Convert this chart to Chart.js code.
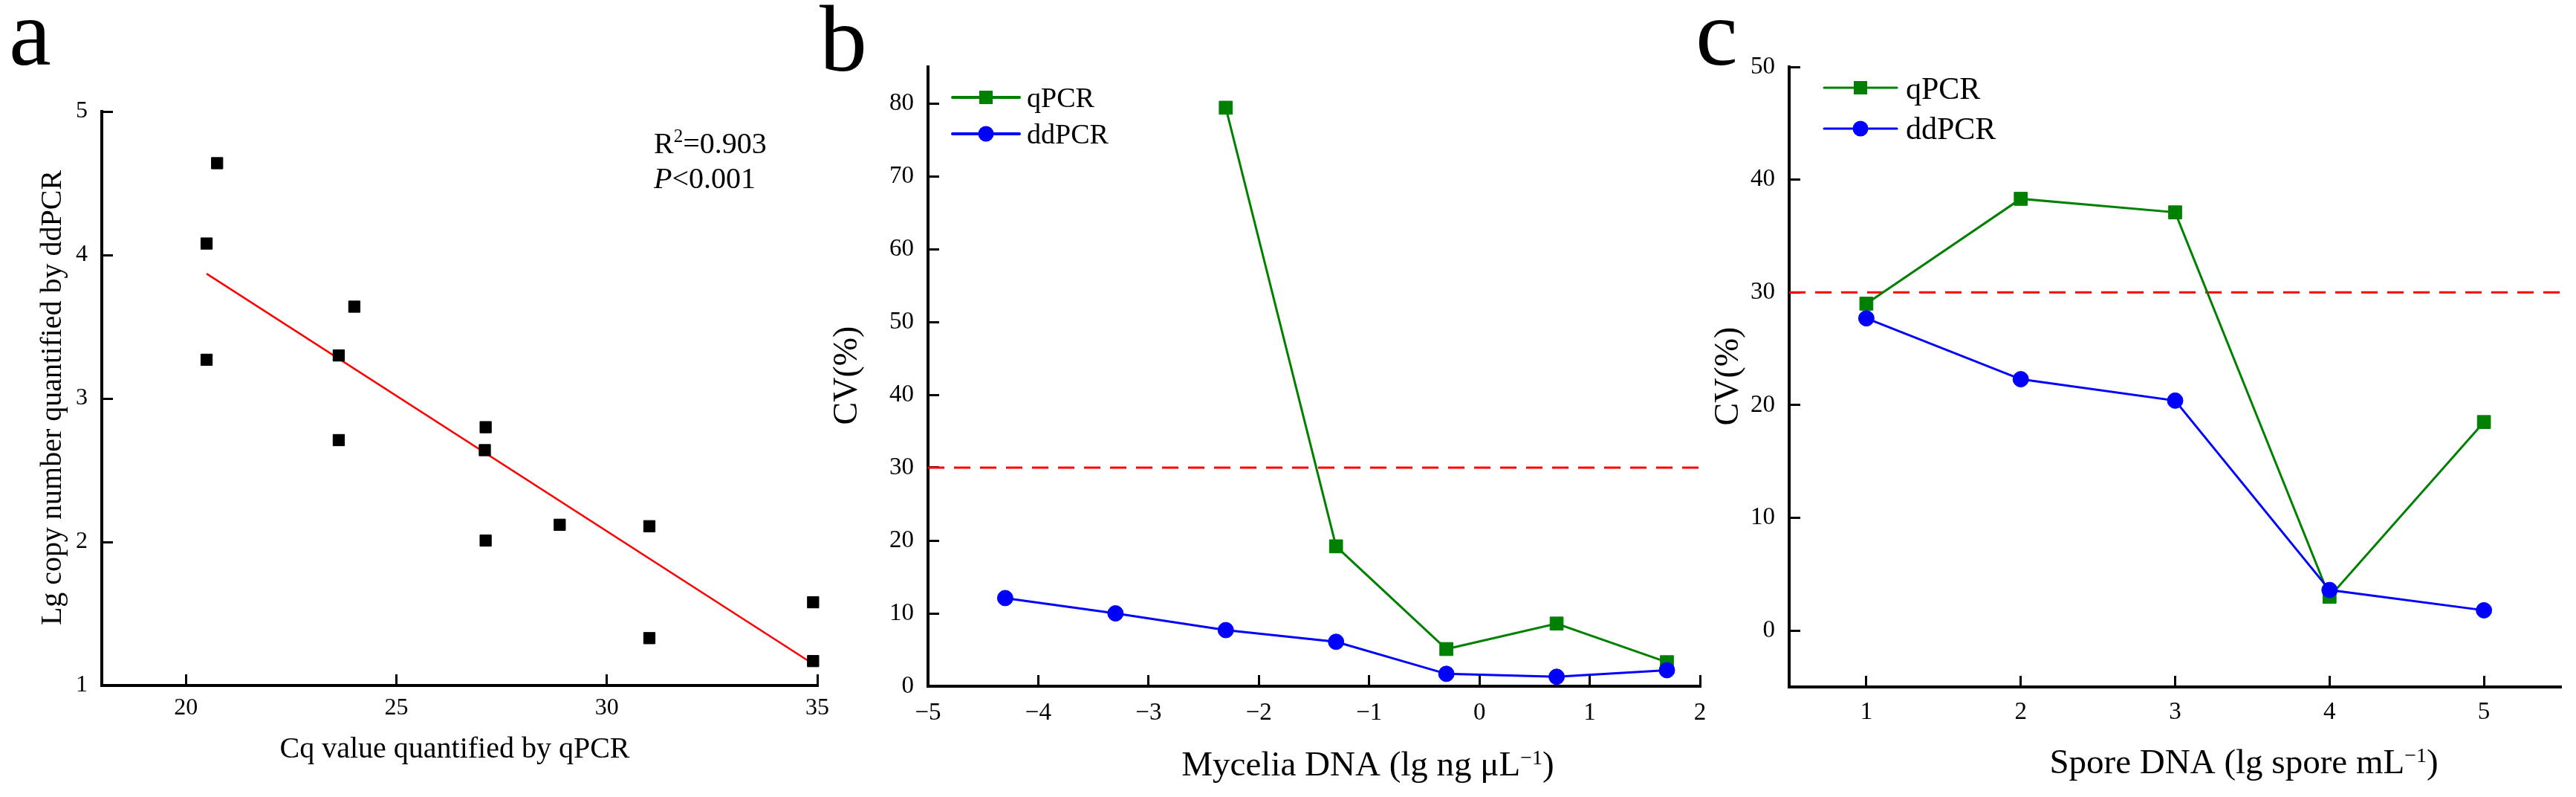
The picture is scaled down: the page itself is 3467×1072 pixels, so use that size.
<!DOCTYPE html>
<html>
<head>
<meta charset="utf-8">
<title>qPCR vs ddPCR</title>
<script src="https://cdn.jsdelivr.net/npm/chart.js@4.4.0/dist/chart.umd.min.js"></script>
<style>
  html, body { margin: 0; padding: 0; background: #fff; overflow: hidden; }
  #wrap { position: relative; width: 3467px; height: 1072px; }
  #wrap canvas { position: absolute; left: 0; top: 0; }
</style>
</head>
<body>
<div id="wrap">
  <canvas id="chart-a" width="3467" height="1072"></canvas>
  <canvas id="chart-b" width="3467" height="1072"></canvas>
  <canvas id="chart-c" width="3467" height="1072"></canvas>
</div>
<script>
// ---- data: panel a (Cq vs lg copy number) ----
const aCq = [20.74, 20.49, 20.49, 24.0, 23.63, 23.63, 27.12, 27.10, 27.12, 28.88, 31.01, 31.01, 34.9, 34.9];
const aLg = [4.64, 4.08, 3.27, 3.64, 3.30, 2.71, 2.80, 2.64, 2.01, 2.12, 2.11, 1.33, 1.58, 1.17];
const aFitX = [20.49, 34.9];
const aFitY = [3.87, 1.15];
const aXTicks = [20, 25, 30, 35];
const aYTicks = [1, 2, 3, 4, 5];

// ---- data: panel b (mycelia DNA) ----
const bDna = [-4.3, -3.3, -2.3, -1.3, -0.3, 0.7, 1.7];
const bQpcr = [null, null, 79.4, 19.2, 5.1, 8.6, 3.3];
const bDdpcr = [12.1, 10.0, 7.7, 6.1, 1.7, 1.3, 2.2];
const bXTicks = [-5, -4, -3, -2, -1, 0, 1, 2];
const bYTicks = [0, 10, 20, 30, 40, 50, 60, 70, 80];

// ---- data: panel c (spore DNA) ----
const cDna = [1, 2, 3, 4, 5];
const cQpcr = [29.0, 38.3, 37.1, 3.0, 18.5];
const cDdpcr = [27.7, 22.3, 20.4, 3.6, 1.8];
const cXTicks = [1, 2, 3, 4, 5];
const cYTicks = [0, 10, 20, 30, 40, 50];

const cvLimit = 30;

const FONT = "'Liberation Serif', 'Times New Roman', serif";
const W = 3467, H = 1072;
const AXIS_W = 100, AXIS_H = 100;
const GREEN = '#008000', BLUE = '#0000ff', RED = '#ff0000';

function pts(xs, ys) {
  return xs.map((x, i) => ({ x, y: ys[i] })).filter(p => p.y !== null);
}

// place the plot area at fixed page pixels
function frame(area) {
  return {
    autoPadding: false,
    padding: {
      left: area.left - AXIS_W,
      right: W - area.right,
      top: area.top,
      bottom: H - area.bottom - AXIS_H
    }
  };
}

function axis(min, max, ticks, pad, size, fmt) {
  return {
    type: 'linear', min, max,
    afterBuildTicks: s => { s.ticks = ticks.map(v => ({ value: v })); },
    afterFit: s => {
      if (s.isHorizontal()) s.height = AXIS_H; else s.width = AXIS_W;
      s.paddingLeft = s.paddingRight = s.paddingTop = s.paddingBottom = 0;
    },
    border: { color: '#000', width: 4 },
    grid: { drawOnChartArea: false, drawTicks: true, tickLength: -15, tickWidth: 3, tickColor: '#000' },
    ticks: {
      color: '#000', padding: pad, autoSkip: false, maxRotation: 0,
      font: { family: FONT, size: size },
      callback: fmt || (v => String(v))
    }
  };
}

// text pieces with superscripts
function rich(ctx, parts, x, y, align) {
  const widths = parts.map(p => {
    ctx.font = `${p.style || ''} ${p.size}px ${FONT}`;
    return ctx.measureText(p.t).width;
  });
  const total = widths.reduce((a, b) => a + b, 0);
  let cx = align === 'center' ? x - total / 2 : x;
  ctx.textAlign = 'left';
  ctx.textBaseline = 'alphabetic';
  ctx.fillStyle = '#000';
  parts.forEach((p, i) => {
    ctx.font = `${p.style || ''} ${p.size}px ${FONT}`;
    ctx.fillText(p.t, cx, y - (p.dy || 0));
    cx += widths[i];
  });
}

function vtext(ctx, txt, size, x, y) {
  ctx.save();
  ctx.translate(x, y);
  ctx.rotate(-Math.PI / 2);
  ctx.font = `${size}px ${FONT}`;
  ctx.fillStyle = '#000';
  ctx.textAlign = 'center';
  ctx.textBaseline = 'alphabetic';
  ctx.fillText(txt, 0, 0);
  ctx.restore();
}

function legend(ctx, o) {
  ctx.save();
  ctx.lineCap = 'round';
  ctx.lineWidth = o.lw;
  // qPCR
  ctx.strokeStyle = GREEN;
  ctx.beginPath(); ctx.moveTo(o.x1, o.y1); ctx.lineTo(o.x2, o.y1); ctx.stroke();
  ctx.fillStyle = GREEN;
  ctx.fillRect((o.x1 + o.x2) / 2 - 9, o.y1 - 9, 18, 18);
  // ddPCR
  ctx.strokeStyle = BLUE;
  ctx.beginPath(); ctx.moveTo(o.x1, o.y2); ctx.lineTo(o.x2, o.y2); ctx.stroke();
  ctx.fillStyle = BLUE;
  ctx.beginPath(); ctx.arc((o.x1 + o.x2) / 2, o.y2, 10.5, 0, Math.PI * 2); ctx.fill();
  ctx.fillStyle = '#000';
  ctx.font = `${o.size}px ${FONT}`;
  ctx.textAlign = 'left';
  ctx.textBaseline = 'alphabetic';
  ctx.fillText('qPCR', o.tx, o.b1);
  ctx.fillText('ddPCR', o.tx, o.b2);
  ctx.restore();
}

function letter(ctx, ch, x, y) {
  ctx.save();
  ctx.font = `128px ${FONT}`;
  ctx.fillStyle = '#000';
  ctx.textAlign = 'left';
  ctx.textBaseline = 'alphabetic';
  ctx.fillText(ch, x, y);
  ctx.restore();
}

const minus = v => String(v).replace('-', '\u2212');

function lineSet(label, data, color, style, radius, order) {
  return {
    label, data, order,
    showLine: true,
    borderColor: color, borderWidth: 3,
    pointStyle: style, pointRadius: radius, pointHoverRadius: radius,
    pointBackgroundColor: color, pointBorderColor: color, pointBorderWidth: 1,
    clip: false
  };
}

function limitSet(xs) {
  return {
    label: 'CV 30%', order: 2,
    data: pts(xs, xs.map(() => cvLimit)),
    showLine: true,
    borderColor: RED, borderWidth: 3, borderDash: [22, 13],
    pointRadius: 0
  };
}

const common = {
  responsive: false,
  animation: false,
  devicePixelRatio: 1,
  plugins: { legend: { display: false }, tooltip: { enabled: false } }
};

// ---- panel a ----
new Chart(document.getElementById('chart-a'), {
  type: 'scatter',
  data: {
    datasets: [
      {
        label: 'samples', data: pts(aCq, aLg), order: 0,
        pointStyle: 'rect', pointRadius: 10.8, pointHoverRadius: 10.8,
        pointBackgroundColor: '#000', pointBorderColor: '#000', pointBorderWidth: 1,
        clip: false
      },
      {
        label: 'fit', data: pts(aFitX, aFitY), order: 1,
        showLine: true, borderColor: RED, borderWidth: 2.5, pointRadius: 0
      }
    ]
  },
  options: {
    ...common,
    layout: frame({ left: 137, right: 1100, top: 150, bottom: 922 }),
    scales: {
      x: axis(18, 35, aXTicks, 26, 32),
      y: axis(1, 5, aYTicks, 34, 32)
    }
  },
  plugins: [{
    id: 'textA',
    afterDraw(chart) {
      const ctx = chart.ctx;
      letter(ctx, 'a', 12, 87);
      rich(ctx, [{ t: 'Cq value quantified by qPCR', size: 40 }], 612, 1019, 'center');
      vtext(ctx, 'Lg copy number quantified by ddPCR', 40, 82, 535);
      rich(ctx, [
        { t: 'R', size: 40 }, { t: '2', size: 25, dy: 15 }, { t: '=0.903', size: 40 }
      ], 880, 206);
      rich(ctx, [
        { t: 'P', size: 40, style: 'italic' }, { t: '<0.001', size: 40 }
      ], 880, 253);
    }
  }]
});

// ---- panel b ----
new Chart(document.getElementById('chart-b'), {
  type: 'scatter',
  data: {
    datasets: [
      lineSet('ddPCR', pts(bDna, bDdpcr), BLUE, 'circle', 10.5, 0),
      lineSet('qPCR', pts(bDna, bQpcr), GREEN, 'rect', 12.5, 1),
      limitSet([-5, 2])
    ]
  },
  options: {
    ...common,
    layout: frame({ left: 1249, right: 2288, top: 90, bottom: 923 }),
    scales: {
      x: axis(-5, 2, bXTicks, 32, 33, minus),
      y: axis(0, 85, bYTicks, 34, 33)
    }
  },
  plugins: [{
    id: 'textB',
    afterDraw(chart) {
      const ctx = chart.ctx;
      letter(ctx, 'b', 1103, 95);
      rich(ctx, [
        { t: 'Mycelia DNA (lg ng \u03bcL', size: 47 },
        { t: '\u22121', size: 28, dy: 15 },
        { t: ')', size: 47 }
      ], 1841, 1043, 'center');
      vtext(ctx, 'CV(%)', 46, 1153, 505);
      legend(ctx, { x1: 1282, x2: 1372, y1: 131, y2: 180, lw: 4, tx: 1382, b1: 144, b2: 193, size: 38 });
    }
  }]
});

// ---- panel c ----
new Chart(document.getElementById('chart-c'), {
  type: 'scatter',
  data: {
    datasets: [
      lineSet('ddPCR', pts(cDna, cDdpcr), BLUE, 'circle', 10.5, 0),
      lineSet('qPCR', pts(cDna, cQpcr), GREEN, 'rect', 12.5, 1),
      limitSet([0.5, 5.5])
    ]
  },
  options: {
    ...common,
    layout: frame({ left: 2408, right: 3447, top: 90, bottom: 924 }),
    scales: {
      x: axis(0.5, 5.5, cXTicks, 30, 33),
      y: axis(-5, 50, cYTicks, 34, 33)
    }
  },
  plugins: [{
    id: 'textC',
    afterDraw(chart) {
      const ctx = chart.ctx;
      letter(ctx, 'c', 2282, 87);
      rich(ctx, [
        { t: 'Spore DNA (lg spore mL', size: 47 },
        { t: '\u22121', size: 28, dy: 15 },
        { t: ')', size: 47 }
      ], 3020, 1040, 'center');
      vtext(ctx, 'CV(%)', 46, 2339, 506);
      legend(ctx, { x1: 2455, x2: 2553, y1: 118, y2: 173, lw: 3, tx: 2565, b1: 133, b2: 187, size: 42 });
    }
  }]
});
</script>
</body>
</html>
